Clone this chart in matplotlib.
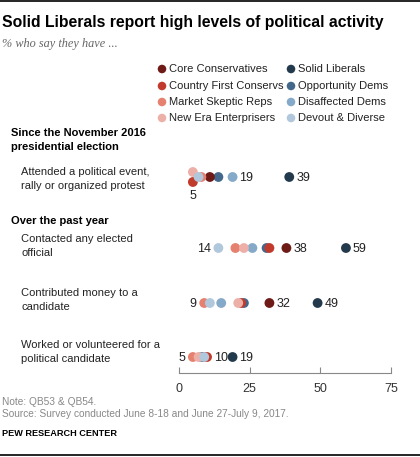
import matplotlib
matplotlib.use("Agg")
import matplotlib.pyplot as plt

plt.rcParams['font.family'] = ['Liberation Sans', 'DejaVu Sans']

groups = ["Core Conservatives", "Country First Conservs", "Market Skeptic Reps",
          "New Era Enterprisers", "Solid Liberals", "Opportunity Dems",
          "Disaffected Dems", "Devout & Diverse"]
colors = ["#6E1A17", "#C13B2C", "#E6806F", "#EDB0A8",
          "#233A4D", "#43688C", "#85A9C8", "#B1C7DC"]

activities = ["Attended a political event,\nrally or organized protest",
              "Contacted any elected\nofficial",
              "Contributed money to a\ncandidate",
              "Worked or volunteered for a\npolitical candidate"]

# values per group, one entry per activity
values = {
    "Core Conservatives":     [11, 38, 32, 9],
    "Country First Conservs": [5, 32, 22, 10],
    "Market Skeptic Reps":    [8, 20, 9, 5],
    "New Era Enterprisers":   [5, 23, 21, 7],
    "Solid Liberals":         [39, 59, 49, 19],
    "Opportunity Dems":       [14, 31, 23, 8],
    "Disaffected Dems":       [19, 26, 15, 8],
    "Devout & Diverse":       [7, 14, 11, 9],
}

# labels shown next to dots: (activity index, group, side)
labels = [(0, "Country First Conservs", "below"), (0, "Disaffected Dems", "right"),
          (0, "Solid Liberals", "right"),
          (1, "Devout & Diverse", "left"), (1, "Core Conservatives", "right"),
          (1, "Solid Liberals", "right"),
          (2, "Market Skeptic Reps", "left"), (2, "Core Conservatives", "right"),
          (2, "Solid Liberals", "right"),
          (3, "Market Skeptic Reps", "left"), (3, "Country First Conservs", "right"),
          (3, "Solid Liberals", "right")]

W, H = 420, 457
fig = plt.figure(figsize=(W / 100, H / 100), dpi=100)

# overlay in pixel coordinates for the text
can = fig.add_axes([0, 0, 1, 1])
can.set_xlim(0, W)
can.set_ylim(H, 0)
can.axis("off")

row_y = [177, 248, 303, 357]
ax_top, ax_bot = 160, 373.3
x0, x1 = 178.7, 391.3
ax = fig.add_axes([x0 / W, 1 - ax_bot / H, (x1 - x0) / W, (ax_bot - ax_top) / H])
ax.set_xlim(0, 75)
ax.set_ylim(ax_bot, ax_top)
ax.patch.set_alpha(0)
for s in ["top", "right", "left"]:
    ax.spines[s].set_visible(False)
ax.spines["bottom"].set_color("#888888")
ax.set_yticks([])
ax.set_xticks([0, 25, 50, 75])
ax.tick_params(axis="x", direction="in", length=4, color="#888888",
               labelsize=9, labelcolor="#333333", pad=7)

# row 1 has two dots nudged apart so they can be seen
nudge = {(0, "New Era Enterprisers"): -5, (0, "Country First Conservs"): 5}

draw_order = ["Solid Liberals", "Opportunity Dems", "Disaffected Dems",
              "Core Conservatives", "Country First Conservs", "Market Skeptic Reps",
              "New Era Enterprisers", "Devout & Diverse"]
for g in draw_order:
    c = colors[groups.index(g)]
    ys = [row_y[i] + nudge.get((i, g), 0) for i in range(4)]
    ax.scatter(values[g], ys, s=50, color=c, edgecolors="none", zorder=3)

for i, g, side in labels:
    v = values[g][i]
    y = row_y[i] + nudge.get((i, g), 0)
    if side == "right":
        ax.annotate(str(v), (v, y), xytext=(5, -1), textcoords="offset points",
                    ha="left", va="center", fontsize=9, color="#222222")
    elif side == "left":
        ax.annotate(str(v), (v, y), xytext=(-5.5, -1), textcoords="offset points",
                    ha="right", va="center", fontsize=9, color="#222222")
    else:
        ax.annotate(str(v), (v, y), xytext=(0, -6), textcoords="offset points",
                    ha="center", va="top", fontsize=9, color="#222222")

# title
can.plot([0, W], [1, 1], color="black", lw=1.2)
can.text(2, 22, "Solid Liberals report high levels of political activity",
         fontsize=11.3, fontweight="bold", va="center", ha="left", color="black")
can.text(2, 44, "% who say they have ...", fontsize=8.8, style="italic",
         family="Liberation Serif", va="center", ha="left", color="#666666")

# legend
leg_x = [162, 291]
leg_y = [69, 86, 102, 118]
for k, g in enumerate(groups):
    col, row = divmod(k, 4)
    can.scatter(leg_x[col], leg_y[row], s=38, color=colors[k], edgecolors="none")
    can.text(leg_x[col] + 7, leg_y[row], g, fontsize=8, va="center", ha="left",
             color="#222222")

# section headers and row labels
can.text(11, 140, "Since the November 2016\npresidential election", fontsize=8,
         fontweight="bold", va="center", ha="left", linespacing=1.45)
can.text(11, 221, "Over the past year", fontsize=8, fontweight="bold",
         va="center", ha="left")
label_y = [179, 246, 300, 352]
for i, t in enumerate(activities):
    can.text(21, label_y[i], t, fontsize=8, va="center", ha="left",
             color="#222222", linespacing=1.5)

# footer
can.text(2, 402, "Note: QB53 & QB54.", fontsize=7.3, color="#888888", va="center")
can.text(2, 414, "Source: Survey conducted June 8-18 and June 27-July 9, 2017.",
         fontsize=7.3, color="#888888", va="center")
can.text(2, 434, "PEW RESEARCH CENTER", fontsize=6.6, fontweight="bold",
         color="black", va="center")
can.plot([0, W], [455, 455], color="black", lw=1.2)

fig.savefig("out.png", dpi=100)
